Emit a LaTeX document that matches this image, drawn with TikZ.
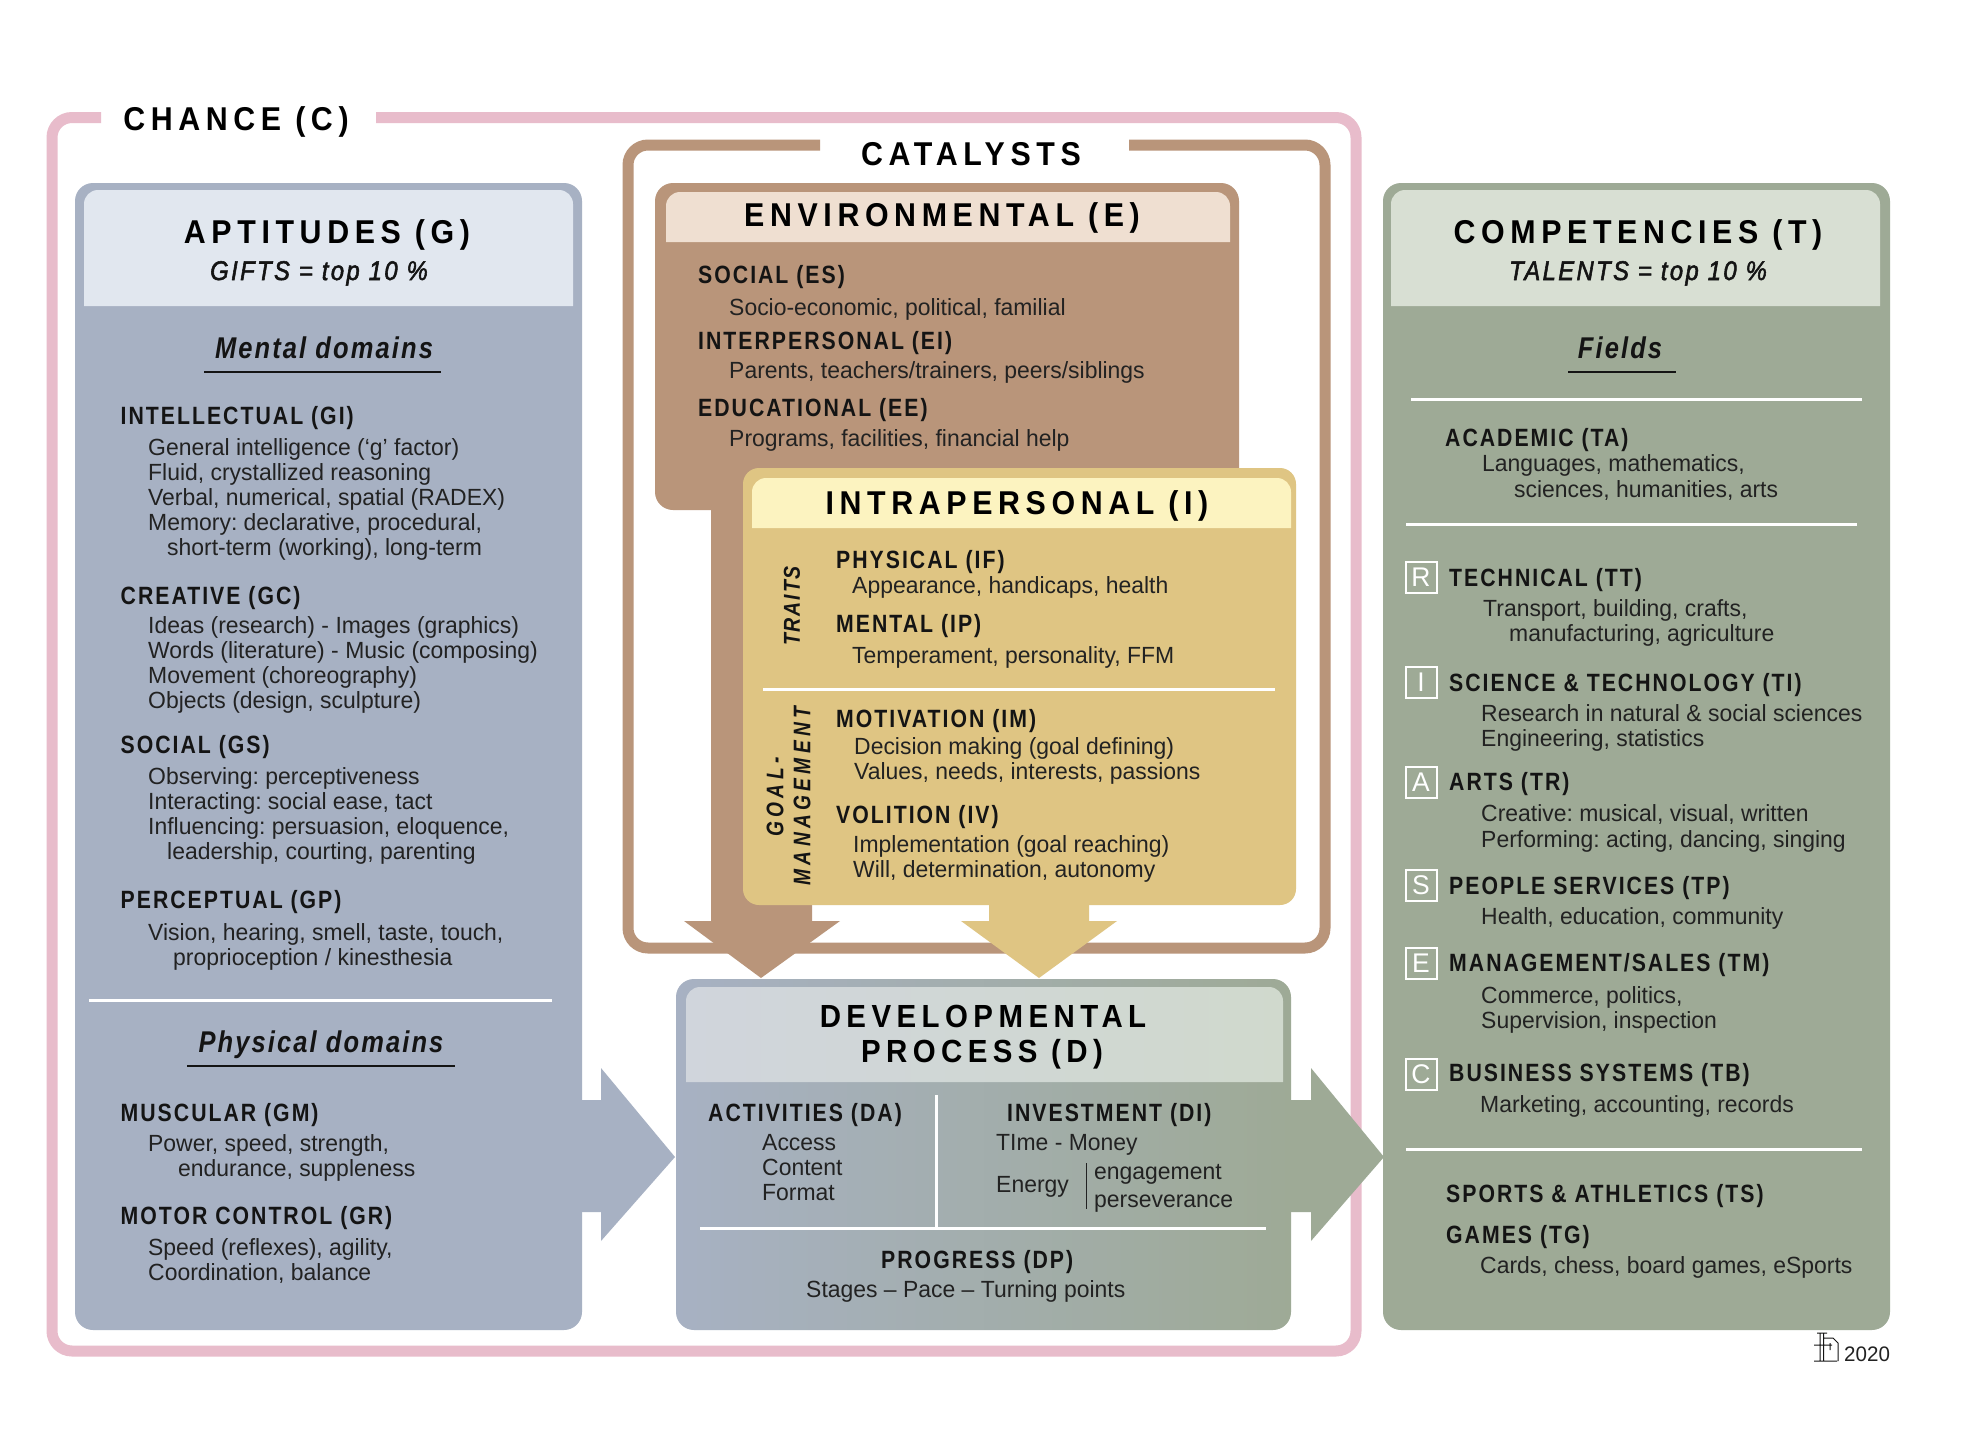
\documentclass[tikz,border=0pt]{standalone}
\usepackage{fontspec}
\setmainfont{Liberation Sans}[FakeStretch=.98]
\newfontfamily\lf[FakeStretch=.85,LetterSpace=8]{Liberation Sans}
\newfontfamily\hf[FakeStretch=.92,LetterSpace=17]{Liberation Sans}
\newfontfamily\subf[FakeStretch=.85,LetterSpace=7]{Liberation Sans}
\newfontfamily\giftf[FakeStretch=.88,LetterSpace=9,FakeBold=2]{Liberation Sans}
\newfontfamily\rotf[FakeStretch=.8,LetterSpace=18]{Liberation Sans}
\AtBeginDocument{\frenchspacing}
\definecolor{pinkc}{HTML}{E8BCCB}
\definecolor{tanc}{HTML}{B9957A}
\definecolor{bluec}{HTML}{A7B1C3}
\definecolor{greenc}{HTML}{9EAA96}
\definecolor{yelc}{HTML}{DFC583}
\definecolor{bluehd}{HTML}{E1E7EF}
\definecolor{greenhd}{HTML}{D8DFD3}
\definecolor{tanhd}{HTML}{EFDFD1}
\definecolor{yelhd}{HTML}{FCF3C0}
\definecolor{dhdl}{HTML}{D0D5DC}
\definecolor{dhdr}{HTML}{D0D9CD}
\definecolor{ink}{HTML}{141414}
\definecolor{bodyink}{HTML}{222222}
\newcounter{nn}
\tikzset{
  labt/.style={anchor=base west,inner sep=0pt,text=ink,font=\lf\bfseries\fontsize{25}{25}\selectfont},
  bodt/.style={anchor=base west,inner sep=0pt,text=bodyink,font=\fontsize{23.4}{25}\selectfont},
  headt/.style={anchor=base,inner sep=0pt,text=black,font=\hf\bfseries\fontsize{33}{33}\selectfont},
  devt/.style={anchor=base,inner sep=0pt,text=black,font=\hf\bfseries\fontsize{32}{32}\selectfont},
  subt/.style={anchor=base,inner sep=0pt,text=ink,font=\giftf\itshape\fontsize{27}{27}\selectfont},
  domt/.style={anchor=base,inner sep=0pt,text=ink,font=\subf\bfseries\itshape\fontsize{30}{30}\selectfont},
  rotA/.style={anchor=center,inner sep=0pt,rotate=90,text=ink,font=\lf\bfseries\itshape\fontsize{23}{23}\selectfont},
  rotB/.style={anchor=center,inner sep=0pt,rotate=90,text=ink,font=\rotf\bfseries\itshape\fontsize{24}{24}\selectfont},
  ribox/.style={draw=white,line width=2pt,minimum width=31pt,minimum height=31pt,inner sep=0pt,text=white,font=\fontsize{27}{27}\selectfont},
  whiterule/.style={draw=white,line width=3pt},
  blackrule/.style={draw=ink,line width=1.6pt},
  frameline/.style={line width=11pt,rounded corners=20pt},
}
\newcommand\Lab[3]{\stepcounter{nn}\node[labt] (l\arabic{nn}) at (#1,#2) {#3};}
\newcommand\Bod[3]{\stepcounter{nn}\node[bodt] (b\arabic{nn}) at (#1,#2) {#3};}
\newcommand\Hd[3]{\stepcounter{nn}\node[headt] (h\arabic{nn}) at (#1,#2) {#3};}
\newcommand\Ri[3]{\stepcounter{nn}\node[ribox] (r\arabic{nn}) at (#1,#2) {#3};}
\begin{document}
\begin{tikzpicture}[x=1pt,y=-1pt]
\useasboundingbox (0,0) rectangle (1968,1430);
\fill[white] (0,0) rectangle (1968,1430);
% outer frames
\draw[pinkc,frameline] (101,117.5) -- (52,117.5) -- (52,1351) -- (1356,1351) -- (1356,117.5) -- (376,117.5);
\draw[tanc,frameline] (820,145) -- (628,145) -- (628,948) -- (1325,948) -- (1325,145) -- (1129,145);
\Hd{236}{130}{CHANCE (C)}
\Hd{971}{165}{CATALYSTS}
% aptitudes panel
\fill[bluec,rounded corners=18pt] (75,183) rectangle (582,1330);
\fill[bluehd] (84,306) [rounded corners=14pt] -- (84,190) -- (573,190) [sharp corners] -- (573,306) -- cycle;
\Hd{327}{243}{APTITUDES (G)}
\node[subt] (giftstxt) at (319,280) {GIFTS = top 10 \%};
\node[domt] (mentaltxt) at (324,358) {Mental domains};
\draw[blackrule] (204,372) -- (441,372);
\Lab{120.5}{424}{INTELLECTUAL (GI)}
\Bod{148}{455}{General intelligence (‘g’ factor)}
\Bod{148}{480}{Fluid, crystallized reasoning}
\Bod{148}{505}{Verbal, numerical, spatial (RADEX)}
\Bod{148}{530}{Memory: declarative, procedural,}
\Bod{167}{555}{short-term (working), long-term}
\Lab{120.5}{604}{CREATIVE (GC)}
\Bod{148}{633}{Ideas (research) - Images (graphics)}
\Bod{148}{658}{Words (literature) - Music (composing)}
\Bod{148}{683}{Movement (choreography)}
\Bod{148}{708}{Objects (design, sculpture)}
\Lab{120.5}{753}{SOCIAL (GS)}
\Bod{148}{784}{Observing: perceptiveness}
\Bod{148}{809}{Interacting: social ease, tact}
\Bod{148}{834}{Influencing: persuasion, eloquence,}
\Bod{167}{859}{leadership, courting, parenting}
\Lab{120.5}{908}{PERCEPTUAL (GP)}
\Bod{148}{940}{Vision, hearing, smell, taste, touch,}
\Bod{173}{965}{proprioception / kinesthesia}
\draw[whiterule] (89,1000.5) -- (552,1000.5);
\node[domt] (phystxt) at (321,1052) {Physical domains};
\draw[blackrule] (187,1066) -- (455,1066);
\Lab{120.5}{1121}{MUSCULAR (GM)}
\Bod{148}{1151}{Power, speed, strength,}
\Bod{178}{1176}{endurance, suppleness}
\Lab{120.5}{1224}{MOTOR CONTROL (GR)}
\Bod{148}{1255}{Speed (reflexes), agility,}
\Bod{148}{1280}{Coordination, balance}
% competencies panel
\fill[greenc,rounded corners=18pt] (1383,183) rectangle (1890,1330);
\fill[greenhd] (1391,306) [rounded corners=14pt] -- (1391,190) -- (1880,190) [sharp corners] -- (1880,306) -- cycle;
\Hd{1638}{243}{COMPETENCIES (T)}
\node[subt] (talenttxt) at (1638,280) {TALENTS = top 10 \%};
\node[domt] (fieldstxt) at (1620,358) {Fields};
\draw[blackrule] (1568,372) -- (1676,372);
\draw[whiterule] (1411,399) -- (1862,399);
\Lab{1445}{446}{ACADEMIC (TA)}
\Bod{1482}{471}{Languages, mathematics,}
\Bod{1514}{497}{sciences, humanities, arts}
\draw[whiterule] (1406,524) -- (1857,524);
\Ri{1421}{577}{R}
\Lab{1449}{586}{TECHNICAL (TT)}
\Bod{1483}{616}{Transport, building, crafts,}
\Bod{1509}{641}{manufacturing, agriculture}
\Ri{1421}{682}{I}
\Lab{1449}{691}{SCIENCE \& TECHNOLOGY (TI)}
\Bod{1481}{721}{Research in natural \& social sciences}
\Bod{1481}{746}{Engineering, statistics}
\Ri{1421}{782}{A}
\Lab{1449}{790}{ARTS (TR)}
\Bod{1481}{821}{Creative: musical, visual, written}
\Bod{1481}{847}{Performing: acting, dancing, singing}
\Ri{1421}{885}{S}
\Lab{1449}{894}{PEOPLE SERVICES (TP)}
\Bod{1481}{924}{Health, education, community}
\Ri{1421}{963}{E}
\Lab{1449}{971}{MANAGEMENT/SALES (TM)}
\Bod{1481}{1003}{Commerce, politics,}
\Bod{1481}{1028}{Supervision, inspection}
\Ri{1421}{1074}{C}
\Lab{1449}{1081}{BUSINESS SYSTEMS (TB)}
\Bod{1480}{1112}{Marketing, accounting, records}
\draw[whiterule] (1406,1149) -- (1862,1149);
\Lab{1446}{1202}{SPORTS \& ATHLETICS (TS)}
\Lab{1446}{1243}{GAMES (TG)}
\Bod{1480}{1273}{Cards, chess, board games, eSports}
% environmental
\fill[tanc,rounded corners=18pt] (655,183) rectangle (1239,510);
\fill[tanc] (711,500) -- (711,921) -- (684,921) -- (761,978) -- (840,921) -- (812,921) -- (812,500) -- cycle;
\fill[tanhd] (666,242) [rounded corners=14pt] -- (666,192) -- (1230,192) [sharp corners] -- (1230,242) -- cycle;
\Hd{942}{226}{ENVIRONMENTAL (E)}
\Lab{698}{283}{SOCIAL (ES)}
\Bod{729}{315}{Socio-economic, political, familial}
\Lab{698}{349}{INTERPERSONAL (EI)}
\Bod{729}{378}{Parents, teachers/trainers, peers/siblings}
\Lab{698}{416}{EDUCATIONAL (EE)}
\Bod{729}{446}{Programs, facilities, financial help}
% intrapersonal
\fill[yelc] (989,900) -- (989,921) -- (961,921) -- (1039,978) -- (1117,921) -- (1089,921) -- (1089,900) -- cycle;
\fill[yelc,rounded corners=16pt] (743,468) rectangle (1296,905);
\fill[yelhd] (752,528) [rounded corners=14pt] -- (752,478) -- (1291,478) [sharp corners] -- (1291,528) -- cycle;
\Hd{1017}{514}{INTRAPERSONAL (I)}
\node[rotA] (traits) at (792,606) {TRAITS};
\Lab{836}{568}{PHYSICAL (IF)}
\Bod{852}{593}{Appearance, handicaps, health}
\Lab{836}{632}{MENTAL (IP)}
\Bod{852}{663}{Temperament, personality, FFM}
\draw[whiterule] (763,689) -- (1275,689);
\node[rotB] (goal) at (775,797) {GOAL-};
\node[rotB] (manag) at (802,796) {MANAGEMENT};
\Lab{836}{727}{MOTIVATION (IM)}
\Bod{854}{754}{Decision making (goal defining)}
\Bod{854}{779}{Values, needs, interests, passions}
\Lab{836}{823}{VOLITION (IV)}
\Bod{853}{852}{Implementation (goal reaching)}
\Bod{853}{877}{Will, determination, autonomy}
% arrows left/right
\fill[bluec] (575,1100) -- (601,1100) -- (601,1068) -- (675,1157) -- (601,1241) -- (601,1212) -- (575,1212) -- cycle;
\fill[greenc] (1285,1100) -- (1311,1100) -- (1311,1068) -- (1384,1157) -- (1311,1241) -- (1311,1212) -- (1285,1212) -- cycle;
% developmental
\shade[left color=bluec,right color=greenc,middle color=bluec!50!greenc,rounded corners=18pt] (676,979) rectangle (1291,1330);
\shade[left color=dhdl,right color=dhdr] (686,1082) [rounded corners=14pt] -- (686,987) -- (1283,987) [sharp corners] -- (1283,1082) -- cycle;
\node[devt] (devA) at (983,1027) {DEVELOPMENTAL};
\node[devt] (devB) at (982,1062) {PROCESS (D)};
\draw[whiterule] (936,1095) -- (936,1228);
\draw[whiterule] (700,1228) -- (1266,1228);
\Lab{708}{1121}{ACTIVITIES (DA)}
\Bod{762}{1150}{Access}
\Bod{762}{1175}{Content}
\Bod{762}{1200}{Format}
\Lab{1007}{1121}{INVESTMENT (DI)}
\Bod{996}{1150}{TIme - Money}
\Bod{996}{1192}{Energy}
\draw[bodyink,line width=1pt] (1086,1163) -- (1086,1209);
\Bod{1094}{1179}{engagement}
\Bod{1094}{1207}{perseverance}
\Lab{881}{1268}{PROGRESS (DP)}
\Bod{806}{1297}{Stages – Pace – Turning points}
% copyright mark
\draw[ink,line width=1pt] (1817,1333) -- (1827,1333) (1820,1333) -- (1820,1361) (1823.5,1333) -- (1823.5,1361) (1814,1361) -- (1837,1361) (1814,1345) -- (1832,1345) (1823.5,1338) -- (1833,1338) -- (1838,1343) -- (1838,1361) (1830,1343) -- (1830,1350);
\node[anchor=base west,inner sep=0pt,text=bodyink,font=\fontsize{21}{21}\selectfont] (yeartxt) at (1844,1361) {2020};
\end{tikzpicture}
\end{document}
